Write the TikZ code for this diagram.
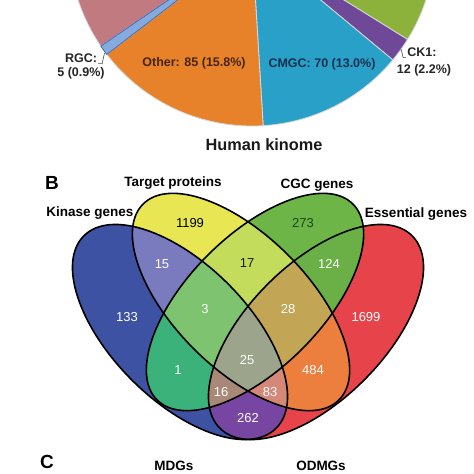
\documentclass[tikz,border=0pt]{standalone}
\usepackage{fontspec}
\setmainfont{Liberation Sans}

% pie slices
\definecolor{pinkSl}{RGB}{192,122,128}
\definecolor{rgcSl}{RGB}{132,170,222}
\definecolor{rgcEdge}{RGB}{68,108,178}
\definecolor{otherSl}{RGB}{232,130,42}
\definecolor{cmgcSl}{RGB}{40,160,200}
\definecolor{ckSl}{RGB}{112,72,152}
\definecolor{greenSl}{RGB}{140,178,60}
\definecolor{otherTxt}{RGB}{70,36,12}
\definecolor{cmgcTxt}{RGB}{22,48,78}

% venn regions
\definecolor{kinBlue}{RGB}{62,82,163}
\definecolor{tarYellow}{RGB}{232,230,82}
\definecolor{cgcGreen}{RGB}{108,181,70}
\definecolor{essRed}{RGB}{230,68,74}
\definecolor{ktCol}{RGB}{122,122,190}
\definecolor{kcCol}{RGB}{58,178,122}
\definecolor{keCol}{RGB}{118,70,162}
\definecolor{tcCol}{RGB}{196,220,92}
\definecolor{teCol}{RGB}{236,126,62}
\definecolor{ceCol}{RGB}{106,176,70}
\definecolor{ktcCol}{RGB}{126,196,112}
\definecolor{kteCol}{RGB}{214,136,120}
\definecolor{kceCol}{RGB}{168,136,118}
\definecolor{tceCol}{RGB}{194,166,86}
\definecolor{allCol}{RGB}{156,164,140}
\definecolor{darkGreenTxt}{RGB}{28,70,20}

\newcommand\kinaseset{(180,332) ellipse [x radius=136pt, y radius=68pt, rotate=-45]}
\newcommand\targetset{(241,302) ellipse [x radius=138.5pt, y radius=66.5pt, rotate=-45]}
\newcommand\cgcset{(255,302) ellipse [x radius=138.5pt, y radius=66.5pt, rotate=45]}
\newcommand\essset{(316,332) ellipse [x radius=136pt, y radius=68pt, rotate=45]}

\begin{document}
\begin{tikzpicture}[
    x=1pt, y=-1pt,
    slice/.style={draw=white!85!black, line width=0.8pt},
    pielbl/.style={font=\bfseries\fontsize{12.5}{15}\selectfont, inner sep=1pt, text=black!85},
    setlbl/.style={font=\bfseries\fontsize{13.5}{16}\selectfont, inner sep=1pt},
    num/.style={font=\fontsize{13}{15}\selectfont, text=white, inner sep=1pt},
    panel/.style={font=\bfseries\fontsize{19}{22}\selectfont, inner sep=0pt},
    leader/.style={draw=black!70, line width=0.6pt},
    setline/.style={draw=black, line width=1.6pt}
]
\useasboundingbox (0,0) rectangle (474,474);
\clip (0,0) rectangle (474,474);
\fill[white] (0,0) rectangle (474,474);

% A: pie chart (lower part)
\coordinate (pc) at (252,-57);
\begin{scope}[shift={(1,2)}]
  \fill[black!15] (pc) circle[radius=183];
\end{scope}
\fill[greenSl, slice] (pc) -- ++(0:183) arc[start angle=0, end angle=31.8, radius=183] -- cycle;
\fill[ckSl, slice] (pc) -- ++(31.8:183) arc[start angle=31.8, end angle=39.7, radius=183] -- cycle;
\fill[cmgcSl, slice] (pc) -- ++(39.7:183) arc[start angle=39.7, end angle=86.5, radius=183] -- cycle;
\fill[otherSl, slice] (pc) -- ++(86.5:183) arc[start angle=86.5, end angle=142.5, radius=183] -- cycle;
\fill[pinkSl, slice] (pc) -- ++(145.7:183) arc[start angle=145.7, end angle=180, radius=183] -- cycle;
\filldraw[fill=rgcSl, draw=rgcEdge, line width=0.8pt] (pc) -- ++(142.5:183) arc[start angle=142.5, end angle=145.7, radius=183] -- cycle;

\node[pielbl, text=otherTxt] (other) at (194,63) {Other: 85 (15.8\%)};
\node[pielbl, text=cmgcTxt] (cmgc) at (322,64) {CMGC: 70 (13.0\%)};
\node[pielbl] (rgc) at (81,58) {RGC:};
\node[pielbl] (rgcval) at (81,73) {5 (0.9\%)};
\node[pielbl] (ck) at (422,52) {CK1:};
\node[pielbl] (ckval) at (424,70) {12 (2.2\%)};
\coordinate (rgctip) at (104.5,53);
\coordinate (cktip) at (401,49);
\draw[leader] (rgc.south east) -- ++(4,0) -- (rgctip);
\draw[leader] (ck.south west) -- ++(-3,0) -- (cktip);
\node[font=\bfseries\fontsize{16.3}{19}\selectfont, text=black!90] (kinome) at (264,145) {Human kinome};

% B: four-set Venn
\node[panel] (pB) at (52,183) {B};
\fill[kinBlue] \kinaseset;
\fill[tarYellow] \targetset;
\fill[cgcGreen] \cgcset;
\fill[essRed] \essset;
% pairs
\begin{scope}\clip \kinaseset; \fill[ktCol] \targetset; \end{scope}
\begin{scope}\clip \kinaseset; \fill[kcCol] \cgcset; \end{scope}
\begin{scope}\clip \kinaseset; \fill[keCol] \essset; \end{scope}
\begin{scope}\clip \targetset; \fill[tcCol] \cgcset; \end{scope}
\begin{scope}\clip \targetset; \fill[teCol] \essset; \end{scope}
\begin{scope}\clip \cgcset; \fill[ceCol] \essset; \end{scope}
% triples
\begin{scope}\clip \kinaseset; \clip \targetset; \fill[ktcCol] \cgcset; \end{scope}
\begin{scope}\clip \kinaseset; \clip \targetset; \fill[kteCol] \essset; \end{scope}
\begin{scope}\clip \kinaseset; \clip \cgcset; \fill[kceCol] \essset; \end{scope}
\begin{scope}\clip \targetset; \clip \cgcset; \fill[tceCol] \essset; \end{scope}
% all four
\begin{scope}\clip \kinaseset; \clip \targetset; \clip \cgcset; \fill[allCol] \essset; \end{scope}
\draw[setline] \kinaseset;
\draw[setline] \targetset;
\draw[setline] \cgcset;
\draw[setline] \essset;

\node[setlbl] (kinase) at (90,213) {Kinase genes};
\node[setlbl] (target) at (173,183) {Target proteins};
\node[setlbl] (cgc) at (317,185) {CGC genes};
\node[setlbl] (essential) at (416,214) {Essential genes};

\node[num, text=black] (n1199) at (190,223) {1199};
\node[num, text=darkGreenTxt] (n273) at (303,223) {273};
\node[num] (n15) at (162,264) {15};
\node[num, text=black!90] (n17) at (247,263) {17};
\node[num] (n124) at (329,264) {124};
\node[num] (n133) at (127,317) {133};
\node[num] (n3) at (205,309) {3};
\node[num] (n28) at (288,309) {28};
\node[num] (n1699) at (366,317) {1699};
\node[num] (n1) at (178,370) {1};
\node[num] (n25) at (247,360) {25};
\node[num] (n484) at (313,370) {484};
\node[num] (n16) at (221,392) {16};
\node[num] (n83) at (270,392) {83};
\node[num] (n262) at (248,418) {262};

% C (bottom edge)
\node[panel] (pC) at (47,462) {C};
\node[setlbl] (mdg) at (174,466) {MDGs};
\node[setlbl] (odmg) at (321,466) {ODMGs};
\end{tikzpicture}
\end{document}
